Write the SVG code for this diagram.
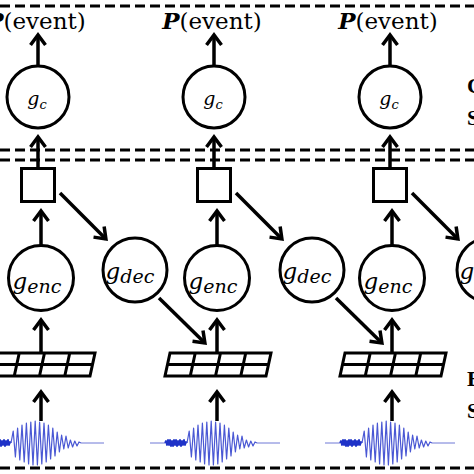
<svg xmlns="http://www.w3.org/2000/svg" width="474" height="474" viewBox="0 0 474 474">
<style>
.dash{stroke:#000;stroke-width:3;stroke-dasharray:10 5;fill:none}
.node{fill:#fff;stroke:#000;stroke-width:3}
.arr{stroke:#000;stroke-width:3.5;fill:none;marker-end:url(#ah)}
.blk{fill:none;stroke:#000;stroke-width:3;stroke-linejoin:miter}
.math{font-family:"DejaVu Serif",serif;font-style:italic;fill:#000}
.prob{font-family:"DejaVu Serif",serif;font-size:23px;fill:#000}
.side{font-family:"Liberation Serif",serif;font-weight:bold;font-size:22px;fill:#000}
</style>
<defs>
<marker id="ah" markerUnits="userSpaceOnUse" markerWidth="18" markerHeight="20" viewBox="-13 -10 18 20" refX="0" refY="0" orient="auto">
<path d="M-10,-7.5 L0,0 L-10,7.5" fill="none" stroke="#000" stroke-width="3.5"/>
</marker>
<g id="blk">
<path class="blk" d="M-47,353 L54,353 L49,376 L-52,376 Z M-49.5,364.5 L51.5,364.5 M-21.75,353 L-26.75,376 M3.5,353 L-1.5,376 M28.75,353 L23.75,376"/>
</g>
<g id="wave" fill="none" stroke-linejoin="round">
<path d="M-67,0 H-52 M40,0 H63" stroke="#6f78d6" stroke-width="1"/>
<path d="M-52,0 L-51,-2 L-50,2 L-49,-3 L-48,2 L-47,-3 L-46,3 L-45,-2 L-44,3 L-43,-3 L-42,2 L-41,-3 L-40,3 L-39,-2 L-38,2 L-37,-3 L-36,3 L-35,-2 L-34,2 L-33,-3 L-32,2 L-31,-1 L-30,0" stroke="#1f33c8" stroke-width="1.8"/>
<path d="M-30,0 L-27.8,-12 L-25.6,14 L-23.4,-15 L-21.2,17 L-19,-18 L-16.8,19 L-14.6,-20 L-12.4,21 L-10.2,-21 L-8,22 L-5.8,-22 L-3.6,22 L-1.4,-21 L0.8,21 L3,-20 L5.2,19 L7.4,-18 L9.6,16 L11.8,-15 L14,13 L16.2,-11 L18.4,9 L20.6,-8 L22.8,6 L25,-7 L27.2,5 L29.4,-3 L31.6,4 L33.8,-2 L36,3 L38,-1 L40,0" stroke="#4a58d4" stroke-width="1.2"/>
</g>
</defs>
<rect width="474" height="474" fill="#fff"/>

<g id="stage-lines">
<line class="dash" x1="0" y1="6" x2="474" y2="6"/>
<line class="dash" x1="0" y1="150" x2="474" y2="150"/>
<line class="dash" x1="0" y1="160" x2="474" y2="160"/>
<line class="dash" x1="0" y1="468" x2="474" y2="468"/>
</g>

<g id="connectors">
<line class="arr" x1="38" y1="66" x2="38" y2="35"/>
<line class="arr" x1="214" y1="66" x2="214" y2="35"/>
<line class="arr" x1="390" y1="66" x2="390" y2="35"/>
<line class="arr" x1="38" y1="168.5" x2="38" y2="137"/>
<line class="arr" x1="214" y1="168.5" x2="214" y2="137"/>
<line class="arr" x1="390" y1="168.5" x2="390" y2="137"/>
<line class="arr" x1="41" y1="245.5" x2="41" y2="211"/>
<line class="arr" x1="217" y1="245.5" x2="217" y2="211"/>
<line class="arr" x1="392" y1="245.5" x2="392" y2="211"/>
<line class="arr" x1="41" y1="353" x2="41" y2="320"/>
<line class="arr" x1="217" y1="353" x2="217" y2="320"/>
<line class="arr" x1="392" y1="353" x2="392" y2="320"/>
<line class="arr" x1="41" y1="421" x2="41" y2="392"/>
<line class="arr" x1="217" y1="421" x2="217" y2="392"/>
<line class="arr" x1="392" y1="421" x2="392" y2="392"/>
<line class="arr" x1="60" y1="193" x2="105.9" y2="238.9"/>
<line class="arr" x1="236" y1="193" x2="281.9" y2="238.9"/>
<line class="arr" x1="412" y1="193" x2="457.9" y2="238.9"/>
<line class="arr" x1="159" y1="298" x2="204.9" y2="342.9"/>
<line class="arr" x1="336" y1="298" x2="381.9" y2="342.9"/>
</g>

<g id="output-1"><text class="prob" x="36" y="29" text-anchor="middle"><tspan font-weight="bold" font-style="italic">P</tspan>(event)</text></g>
<g id="output-2"><text class="prob" x="212" y="29" text-anchor="middle"><tspan font-weight="bold" font-style="italic">P</tspan>(event)</text></g>
<g id="output-3"><text class="prob" x="388" y="29" text-anchor="middle"><tspan font-weight="bold" font-style="italic">P</tspan>(event)</text></g>

<g id="gc-1"><circle class="node" cx="38" cy="97" r="31"/><text class="math" x="37" y="105" text-anchor="middle" font-size="19">g<tspan dy="4" font-size="13">c</tspan></text></g>
<g id="gc-2"><circle class="node" cx="214" cy="97" r="31"/><text class="math" x="213" y="105" text-anchor="middle" font-size="19">g<tspan dy="4" font-size="13">c</tspan></text></g>
<g id="gc-3"><circle class="node" cx="390" cy="97" r="31"/><text class="math" x="389" y="105" text-anchor="middle" font-size="19">g<tspan dy="4" font-size="13">c</tspan></text></g>

<g id="latent-1"><rect class="node" x="21.5" y="168.5" width="33" height="33"/></g>
<g id="latent-2"><rect class="node" x="197.5" y="168.5" width="33" height="33"/></g>
<g id="latent-3"><rect class="node" x="373.5" y="168.5" width="33" height="33"/></g>

<g id="genc-1"><circle class="node" cx="41" cy="278" r="32.5"/><text class="math" x="37" y="289" text-anchor="middle" font-size="23">g<tspan dy="4" font-size="19">enc</tspan></text></g>
<g id="genc-2"><circle class="node" cx="217" cy="278" r="32.5"/><text class="math" x="213" y="289" text-anchor="middle" font-size="23">g<tspan dy="4" font-size="19">enc</tspan></text></g>
<g id="genc-3"><circle class="node" cx="392" cy="278" r="32.5"/><text class="math" x="388" y="289" text-anchor="middle" font-size="23">g<tspan dy="4" font-size="19">enc</tspan></text></g>

<g id="gdec-1"><circle class="node" cx="135" cy="270" r="32"/><text class="math" x="130" y="279" text-anchor="middle" font-size="23">g<tspan dy="4" font-size="19">dec</tspan></text></g>
<g id="gdec-2"><circle class="node" cx="312" cy="270" r="32"/><text class="math" x="307" y="279" text-anchor="middle" font-size="23">g<tspan dy="4" font-size="19">dec</tspan></text></g>
<g id="gdec-3"><circle class="node" cx="489" cy="270" r="32"/><text class="math" x="484" y="279" text-anchor="middle" font-size="23">g<tspan dy="4" font-size="19">dec</tspan></text></g>

<g id="features-1"><use href="#blk" x="41" y="0"/></g>
<g id="features-2"><use href="#blk" x="217" y="0"/></g>
<g id="features-3"><use href="#blk" x="392" y="0"/></g>

<g id="signal-1"><use href="#wave" x="41" y="443"/></g>
<g id="signal-2"><use href="#wave" x="217" y="443"/></g>
<g id="signal-3"><use href="#wave" x="392" y="443"/></g>

<g id="stage-labels">
<text class="side" x="467" y="93">C</text>
<text class="side" x="467" y="125">S</text>
<text class="side" x="467" y="386">E</text>
<text class="side" x="467" y="418">S</text>
</g>
</svg>
